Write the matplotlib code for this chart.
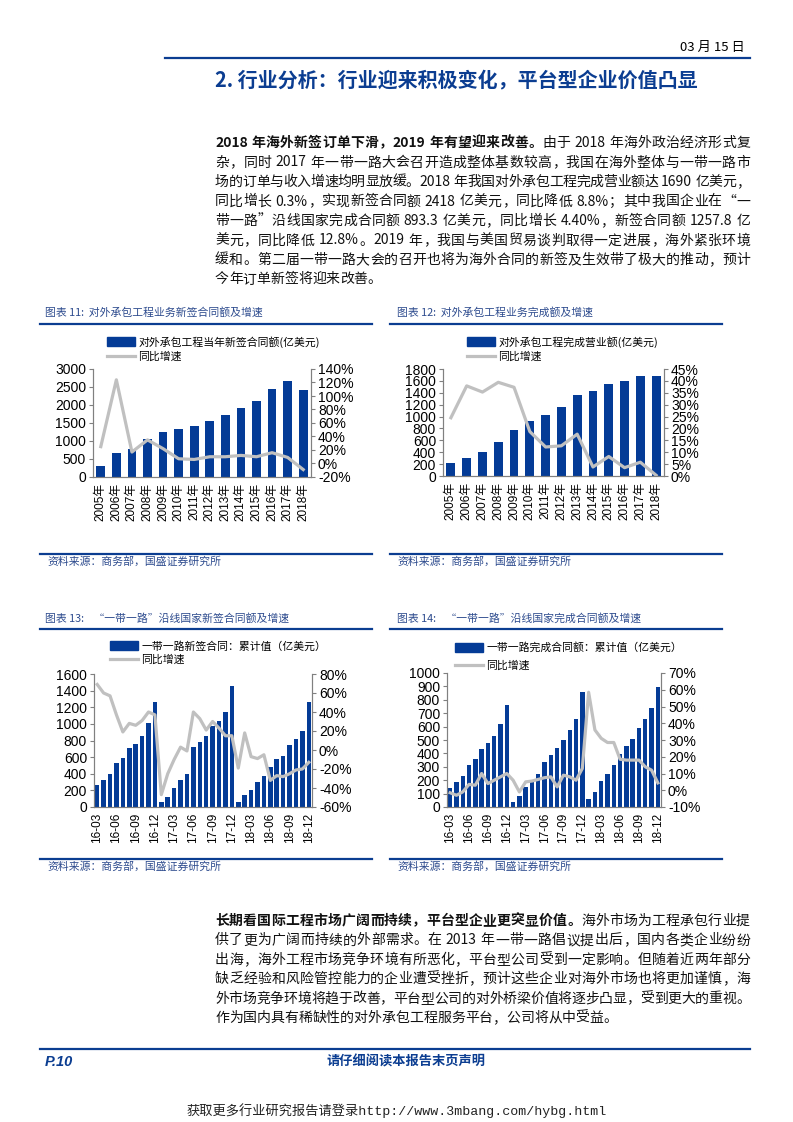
import matplotlib
matplotlib.use('Agg')
import matplotlib.pyplot as plt
from matplotlib.patches import Patch
from matplotlib.lines import Line2D

plt.rcParams['font.family'] = ['Liberation Sans', 'Noto Sans CJK SC', 'DejaVu Sans']
CJK = ['Noto Sans CJK SC', 'DejaVu Sans']

W, H = 793, 1122
BLUE = '#0B3D91'
BAR = '#043B96'
GRAY = '#C0C0C0'
CAP = '#2D4B8E'

# ---- data ----
years = ['2005年', '2006年', '2007年', '2008年', '2009年', '2010年', '2011年',
         '2012年', '2013年', '2014年', '2015年', '2016年', '2017年', '2018年']
new_signed = [296, 660, 776, 1046, 1262, 1344, 1423, 1565, 1716, 1918, 2101, 2440, 2653, 2418]
new_signed_yoy = [25, 124, 17, 35, 22, 7, 6, 10, 10, 12, 10, 16, 9, -9]
completed = [218, 300, 406, 566, 777, 922, 1034, 1166, 1371, 1424, 1541, 1594, 1686, 1690]
completed_yoy = [24.5, 37.9, 35.3, 39.4, 37.3, 18.7, 12.2, 12.7, 17.6, 3.8, 8.2, 3.5, 5.8, 0.3]

months = ['16-03', '16-04', '16-05', '16-06', '16-07', '16-08', '16-09', '16-10', '16-11', '16-12',
          '17-01', '17-02', '17-03', '17-04', '17-05', '17-06', '17-07', '17-08', '17-09', '17-10',
          '17-11', '17-12', '18-01', '18-02', '18-03', '18-04', '18-05', '18-06', '18-07', '18-08',
          '18-09', '18-10', '18-11', '18-12']
br_new = [265, 325, 400, 525, 595, 705, 755, 855, 1010, 1265,
          60, 120, 230, 330, 395, 720, 785, 850, 980, 1030,
          1140, 1450, 55, 140, 210, 295, 370, 485, 580, 615,
          740, 815, 910, 1258]
br_new_yoy = [69, 60, 57, 37, 19, 28, 26, 31, 40, 37,
              -47, -25, -10, 3, -1, 40, 33, 21, 30, 23,
              15, 15, -19, 18, -7, -9, -5, -32, -27, -28,
              -25, -21, -20, -13]
br_done = [145, 185, 232, 313, 360, 432, 480, 532, 620, 760,
           40, 82, 148, 190, 245, 338, 385, 440, 497, 578,
           658, 855, 63, 110, 193, 247, 312, 397, 455, 510,
           590, 657, 740, 893]
br_done_yoy = [-1.5, -3, -1, 3.5, 3, 10, 4, 6, 8, 10,
               6, -1, 5, 5.5, 6.5, 7.5, 8, 2, 9, 8,
               6, 13, 58.5, 36, 31, 28.5, 28.5, 18.5, 18, 18,
               18, 14, 12, 4.4]

para1 = [
    [('2018 年海外新签订单下滑，2019 年有望迎来改善。', True), ('由于 2018 年海外政治经济形式复', False)],
    [('杂，同时 2017 年一带一路大会召开造成整体基数较高，我国在海外整体与一带一路市', False)],
    [('场的订单与收入增速均明显放缓。2018 年我国对外承包工程完成营业额达 1690 亿美元，', False)],
    [('同比增长 0.3%，实现新签合同额 2418 亿美元，同比降低 8.8%；其中我国企业在“一', False)],
    [('带一路”沿线国家完成合同额 893.3 亿美元，同比增长 4.40%，新签合同额 1257.8 亿', False)],
    [('美元，同比降低 12.8%。2019 年，我国与美国贸易谈判取得一定进展，海外紧张环境', False)],
    [('缓和。第二届一带一路大会的召开也将为海外合同的新签及生效带了极大的推动，预计', False)],
    [('今年订单新签将迎来改善。', False)],
]
para2 = [
    [('长期看国际工程市场广阔而持续，平台型企业更突显价值。', True), ('海外市场为工程承包行业提', False)],
    [('供了更为广阔而持续的外部需求。在 2013 年一带一路倡议提出后，国内各类企业纷纷', False)],
    [('出海，海外工程市场竞争环境有所恶化，平台型公司受到一定影响。但随着近两年部分', False)],
    [('缺乏经验和风险管控能力的企业遭受挫折，预计这些企业对海外市场也将更加谨慎，海', False)],
    [('外市场竞争环境将趋于改善，平台型公司的对外桥梁价值将逐步凸显，受到更大的重视。', False)],
    [('作为国内具有稀缺性的对外承包工程服务平台，公司将从中受益。', False)],
]

fig = plt.figure(figsize=(W / 100, H / 100), dpi=100)
renderer = fig.canvas.get_renderer()


def fx(x):
    return x / W


def fy(y):
    return 1 - y / H


def hline(x0, x1, y, lw=1.6):
    fig.add_artist(Line2D([fx(x0), fx(x1)], [fy(y), fy(y)], color=BLUE, lw=lw))


def tokens(s):
    out, buf = [], ''
    for ch in s:
        if ch.isascii() and ch != ' ':
            buf += ch
        else:
            if buf:
                out.append(buf)
                buf = ''
            out.append(ch)
    if buf:
        out.append(buf)
    return out


FS = 10


def text_line(x0, x1, y, segs, justify=True):
    items = []
    for txt, bold in segs:
        for tok in tokens(txt):
            if tok == ' ':
                items.append((None, 3.5))
                continue
            t = fig.text(0, fy(y), tok, fontsize=FS, family=CJK, va='center',
                         weight='bold' if bold else 'normal', color='#111111')
            items.append((t, t.get_window_extent(renderer).width))
    total = sum(w for _, w in items)
    gap = (x1 - x0 - total) / (len(items) - 1) if justify else 0
    x = x0
    for t, w in items:
        if t is not None:
            t.set_x(fx(x))
        x += w + gap


def paragraph(lines, y0, step):
    for i, segs in enumerate(lines):
        text_line(215, 750, y0 + i * step, segs, justify=i < len(lines) - 1)


def chart(box, cats, bars, growth, label, yticks, rticks, width, step, leg_xy, leg_gap):
    l, r, t, b = box
    ax = fig.add_axes([fx(l), fy(b), (r - l) / W, (b - t) / H])
    x = list(range(len(cats)))
    ax.bar(x, bars, width=width, color=BAR, zorder=2)
    ax.set_xlim(-0.5, len(cats) - 0.5)
    ax.set_ylim(yticks[0], yticks[-1])
    ax.set_yticks(yticks)
    ax.set_xticks(x[::step])
    ax.set_xticklabels(cats[::step], rotation=90, fontsize=8.5)
    ax.tick_params(axis='x', length=0, pad=4)
    ax.tick_params(axis='y', length=3, color='#808080', labelsize=10, pad=2)
    ax2 = ax.twinx()
    ax2.plot(x, growth, color=GRAY, lw=2.3)
    ax2.set_ylim(rticks[0], rticks[-1])
    ax2.set_yticks(rticks)
    ax2.set_yticklabels([f'{v}%' for v in rticks])
    ax2.tick_params(axis='y', length=3, color='#808080', labelsize=10, pad=2)
    for a in (ax, ax2):
        a.spines['top'].set_visible(False)
        for s in ('left', 'right', 'bottom'):
            a.spines[s].set_color('#808080')
    handles = [Patch(color=BAR), Line2D([], [], color=GRAY, lw=2.3)]
    fig.legend(handles, [label, '同比增速'], loc='upper left',
               bbox_to_anchor=(fx(leg_xy[0]), fy(leg_xy[1])), frameon=False,
               prop={'family': CJK, 'size': 7.8}, handlelength=2.6, handleheight=0.9,
               handletextpad=0.3, labelspacing=leg_gap, borderpad=0, borderaxespad=0)


# ---- header ----
fig.text(fx(745), fy(47), '03 月 15 日', ha='right', va='center', fontsize=9.5, family=CJK)
hline(165, 750, 58)
fig.text(fx(215), fy(80), '2. 行业分析：行业迎来积极变化，平台型企业价值凸显', va='center',
         fontsize=14.4, weight='bold', color=BLUE, family=CJK)

paragraph(para1, 143, 19.5)

# ---- chart captions and rules ----
caps = [(45, 312, '图表 11:  对外承包工程业务新签合同额及增速'),
        (397, 312, '图表 12:  对外承包工程业务完成额及增速'),
        (45, 618, '图表 13:    “一带一路”沿线国家新签合同额及增速'),
        (397, 618, '图表 14:    “一带一路”沿线国家完成合同额及增速')]
for x, y, s in caps:
    fig.text(fx(x), fy(y), s, va='center', fontsize=7.8, style='italic', color=CAP, family=CJK)
for y in (324, 629):
    hline(40, 372, y)
    hline(390, 722, y)
for y_line, y_txt in ((554, 561), (859, 866)):
    hline(40, 372, y_line)
    hline(390, 722, y_line)
    for x in (47, 397):
        fig.text(fx(x), fy(y_txt), '资料来源：商务部，国盛证券研究所', va='center', fontsize=7.8,
                 style='italic', color=CAP, family=CJK)

chart((93, 311, 369, 477), years, new_signed, new_signed_yoy, '对外承包工程当年新签合同额(亿美元)',
      list(range(0, 3001, 500)), list(range(-20, 141, 20)), 0.56, 1, (107, 336), 0.35)
chart((443, 664, 369, 476), years, completed, completed_yoy, '对外承包工程完成营业额(亿美元)',
      list(range(0, 1801, 200)), list(range(0, 46, 5)), 0.56, 1, (467, 336), 0.35)
chart((94, 312, 674, 807), months, br_new, br_new_yoy, '一带一路新签合同：累计值（亿美元）',
      list(range(0, 1601, 200)), list(range(-60, 81, 20)), 0.7, 3, (110, 641), 0.3)
chart((447, 661, 673, 807), months, br_done, br_done_yoy, '一带一路完成合同额：累计值（亿美元）',
      list(range(0, 1001, 100)), list(range(-10, 71, 10)), 0.7, 3, (455, 642), 0.7)

paragraph(para2, 921, 19.4)

# ---- footer ----
hline(40, 750, 1049)
fig.text(fx(45), fy(1062), 'P.10', va='center', fontsize=10.5, weight='bold', style='italic', color=BLUE)
fig.text(fx(406), fy(1062), '请仔细阅读本报告末页声明', ha='center', va='center', fontsize=9.5,
         weight='bold', style='italic', color=BLUE, family=CJK)
fig.text(fx(397), fy(1111), '获取更多行业研究报告请登录http://www.3mbang.com/hybg.html', ha='center',
         va='center', fontsize=9.5, color='#222222', family=['Liberation Mono', 'Noto Sans CJK SC'])

fig.savefig('out.png', dpi=100)
